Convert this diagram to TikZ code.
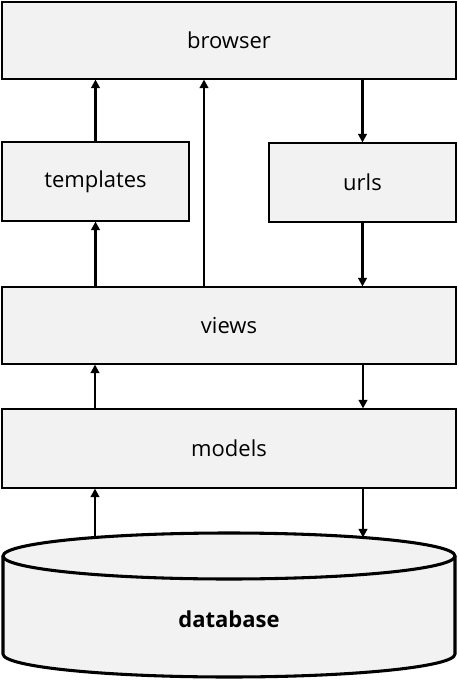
\documentclass[tikz,border=0pt]{standalone}
\usepackage{fontspec}
\setmainfont{Open Sans}
\usetikzlibrary{arrows.meta}
\definecolor{boxgray}{HTML}{F2F2F2}
\begin{document}
\begin{tikzpicture}[x=0.75pt,y=-0.75pt,
    layer/.style={draw, fill=boxgray, line width=0.8pt, inner sep=0pt, font=\fontsize{16.5}{19}\selectfont},
    flow/.style={-{Triangle[length=6.5pt,width=6.5pt]}, line width=2pt}]
    \useasboundingbox (0,0) rectangle (458,680);
    \node[layer, minimum width=340.5pt, minimum height=57.75pt] (browser) at (229,40.5) {browser};
    \node[layer, minimum width=140.25pt, minimum height=59.25pt] (templates) at (95.5,181.5) {templates};
    \node[layer, minimum width=140.25pt, minimum height=59.25pt] (urls) at (362.5,182.5) {urls};
    \node[layer, minimum width=340.5pt, minimum height=57.75pt] (views) at (229,325.5) {views};
    \node[layer, minimum width=340.5pt, minimum height=59.25pt] (models) at (229,448.5) {models};

    % database cylinder
    \draw[fill=boxgray, line width=2.3pt] (3,556) -- (3,654) arc[start angle=180, end angle=0, x radius=226, y radius=23] -- (455,556);
    \draw[fill=boxgray, line width=2.3pt] (229,556) ellipse[x radius=226, y radius=23];
    \node[font=\fontsize{16.5}{19}\selectfont\bfseries] (db) at (229,619) {database};
    \coordinate (dbleft) at (95,537.5);
    \coordinate (dbright) at (363,537.5);

    \draw[flow] (templates.north) -- (templates.north |- browser.south);
    \draw[flow] ([xshift=-18.75pt]views.north) -- ([xshift=-18.75pt]browser.south);
    \draw[flow] (urls.north |- browser.south) -- (urls.north);
    \draw[flow] (templates.south |- views.north) -- (templates.south);
    \draw[flow] (urls.south) -- (urls.south |- views.north);
    \draw[flow] ([xshift=-100.5pt]models.north) -- ([xshift=-100.5pt]views.south);
    \draw[flow] ([xshift=100.5pt]views.south) -- ([xshift=100.5pt]models.north);
    \draw[flow] (dbleft) -- (dbleft |- models.south);
    \draw[flow] (dbright |- models.south) -- (dbright);
\end{tikzpicture}
\end{document}
